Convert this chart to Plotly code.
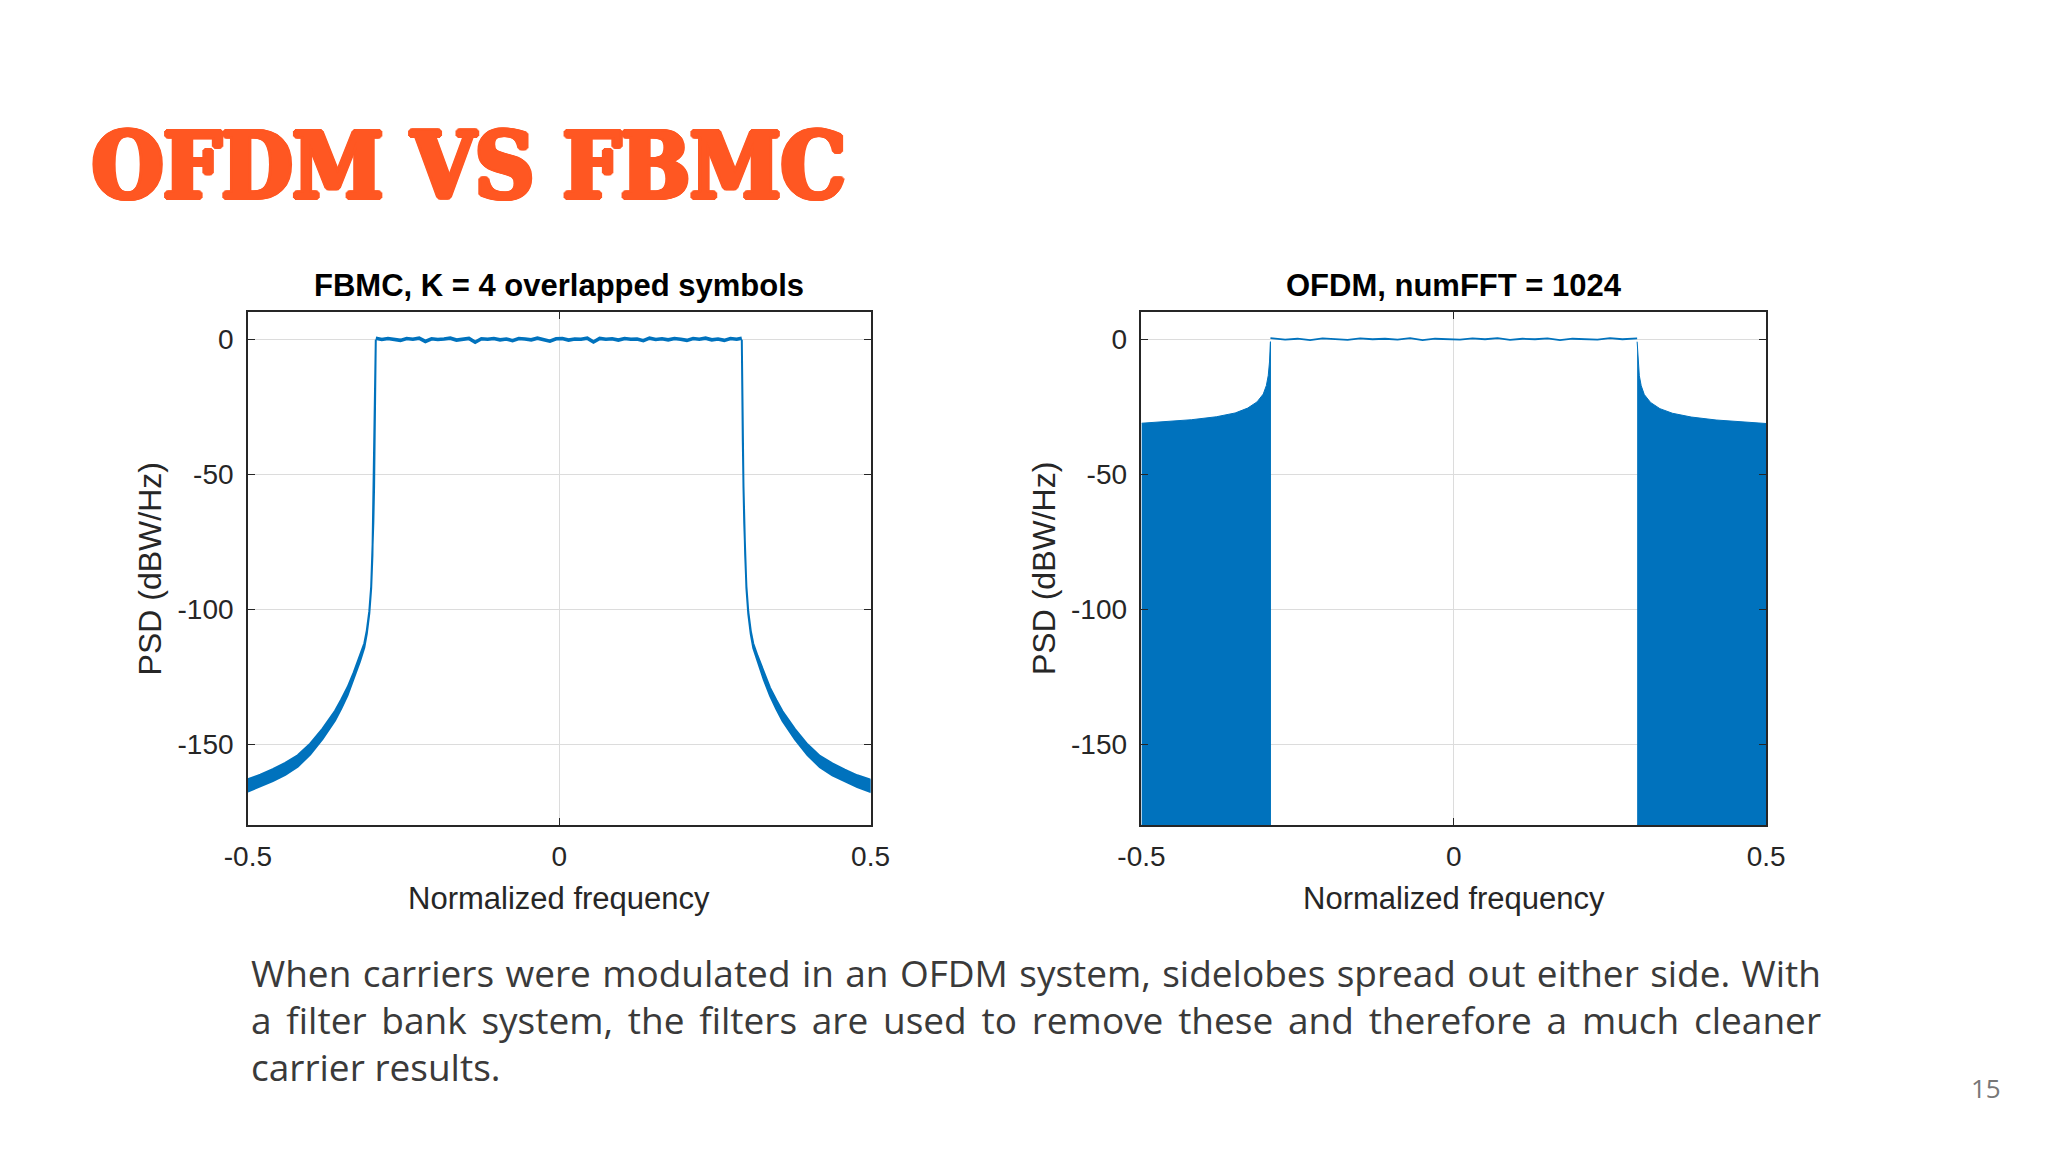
import json
import plotly.graph_objects as go

# ---------------- data ----------------
FREQ_TICKS = [-0.5, 0, 0.5]
FREQ_TICK_TEXT = ["-0.5", "0", "0.5"]
PSD_TICKS = [-150, -100, -50, 0]
PSD_TICK_TEXT = ["-150", "-100", "-50", "0"]
FREQ_RANGE = [-0.5, 0.5]
PSD_RANGE = [-180, 10]

# FBMC passband (noisy, around 0 dB)
fbmc_pass_f = [-0.2946, -0.285, -0.275, -0.265, -0.255, -0.245, -0.235, -0.225, -0.215, -0.205,
               -0.195, -0.185, -0.175, -0.165, -0.155, -0.145, -0.135, -0.125, -0.115, -0.105,
               -0.095, -0.085, -0.075, -0.065, -0.055, -0.045, -0.035, -0.025, -0.015, -0.005,
               0.005, 0.015, 0.025, 0.035, 0.045, 0.055, 0.065, 0.075, 0.085, 0.095,
               0.105, 0.115, 0.125, 0.135, 0.145, 0.155, 0.165, 0.175, 0.185, 0.195,
               0.205, 0.215, 0.225, 0.235, 0.245, 0.255, 0.265, 0.275, 0.285, 0.2932]
fbmc_pass_psd = [0.3, -0.2, 0.2, 0.0, -0.5, 0.2, -0.1, 0.3, -0.9, 0.1,
                 -0.2, 0.0, 0.3, -0.4, -0.1, 0.2, -1.2, 0.1, -0.1, 0.2,
                 -0.3, 0.0, -0.6, 0.2, 0.0, -0.3, 0.3, -0.2, -0.8, 0.1,
                 0.2, -0.4, 0.0, -0.1, 0.3, -1.1, 0.2, -0.1, 0.1, -0.4,
                 0.2, -0.1, 0.0, -0.6, 0.3, -0.2, 0.1, -0.3, 0.2, -0.1,
                 -0.5, 0.2, -0.1, 0.3, -0.3, 0.0, -0.5, 0.2, -0.1, 0.3]

# FBMC skirts: upper / lower edge of the thick noisy band
fbmc_left_f = [-0.5, -0.48, -0.46, -0.44, -0.42, -0.40, -0.38, -0.36, -0.35, -0.34,
               -0.33, -0.32, -0.313, -0.309, -0.305, -0.302, -0.300, -0.2985, -0.2973,
               -0.2962, -0.2955, -0.2948, -0.2946]
fbmc_left_upper = [-163.0, -161.4, -159.3, -157.0, -154.2, -149.9, -144.3, -137.7, -133.5, -129.0,
                   -123.5, -117.2, -112.7, -107.9, -100.8, -91.7, -79.8, -67.8, -54.5,
                   -37.8, -24.8, -7.8, -0.3]
fbmc_left_lower = [-167.6, -165.8, -163.7, -161.4, -158.4, -153.9, -148.1, -141.3, -136.9, -132.0,
                   -126.1, -119.4, -114.3, -109.1, -101.6, -92.3, -80.2, -68.2, -54.9,
                   -38.2, -25.2, -8.2, -0.8]

fbmc_right_f = [0.2932, 0.2934, 0.2941, 0.2948, 0.2959, 0.2971, 0.2986, 0.3006, 0.3036,
                0.3076, 0.3116, 0.3186, 0.3286, 0.3386, 0.3486, 0.3586, 0.3786, 0.3986,
                0.4186, 0.4386, 0.4586, 0.4786, 0.5]
fbmc_right_upper = [-0.3, -7.8, -24.8, -37.8, -54.6, -67.8, -79.8, -91.7, -101.0,
                    -108.1, -112.8, -117.4, -123.7, -129.2, -133.7, -137.9, -144.5, -150.1,
                    -154.4, -157.2, -159.5, -161.6, -163.2]
fbmc_right_lower = [-0.8, -8.2, -25.2, -38.2, -55.0, -68.2, -80.2, -92.3, -101.8,
                    -109.3, -114.4, -119.6, -126.3, -132.2, -137.1, -141.5, -148.3, -154.1,
                    -158.6, -161.6, -163.9, -166.0, -167.8]

# OFDM passband
ofdm_pass_f = [-0.2935, -0.27, -0.25, -0.23, -0.21, -0.19, -0.17, -0.15, -0.13, -0.11,
               -0.09, -0.07, -0.05, -0.03, -0.01, 0.01, 0.03, 0.05, 0.07, 0.09,
               0.11, 0.13, 0.15, 0.17, 0.19, 0.21, 0.23, 0.25, 0.27, 0.2935]
ofdm_pass_psd = [0.3, -0.2, 0.1, -0.4, 0.2, 0.0, -0.3, 0.2, -0.1, 0.1,
                 -0.2, 0.3, -0.4, 0.1, 0.0, -0.2, 0.2, -0.1, 0.3, -0.3,
                 0.1, -0.1, 0.2, -0.4, 0.1, 0.0, -0.2, 0.3, -0.1, 0.2]

# OFDM sidelobe envelopes (the area below is filled by dense nulls)
ofdm_left_f = [-0.5, -0.46, -0.42, -0.38, -0.35, -0.33, -0.315, -0.305,
               -0.300, -0.297, -0.295, -0.2935]
ofdm_left_env = [-31.2, -30.6, -29.9, -28.8, -27.4, -25.6, -23.3, -20.4,
                 -17.2, -13.5, -8.5, -1.0]
ofdm_right_f = [0.2935, 0.295, 0.297, 0.300, 0.305, 0.315, 0.33, 0.35,
                0.38, 0.42, 0.46, 0.5]
ofdm_right_env = [-1.0, -8.7, -13.6, -17.3, -20.6, -23.5, -25.8, -27.5,
                  -28.9, -30.0, -30.7, -31.3]

SLIDE_TITLE = "OFDM VS FBMC"
LEFT_TITLE = "FBMC, K = 4 overlapped symbols"
RIGHT_TITLE = "OFDM, numFFT = 1024"
X_LABEL = "Normalized frequency"
Y_LABEL = "PSD (dBW/Hz)"
BODY_LINES = [
    "When carriers were modulated in an OFDM system, sidelobes spread out either side. With",
    "a filter bank system, the filters are used to remove these and therefore a much cleaner",
    "carrier results.",
]
PAGE_NUMBER = "15"

# ---------------- styling ----------------
W, H = 2048, 1152
BLUE = "#0072BD"
AX = "#262626"
GRID = "#dcdcdc"
FONT = "Liberation Sans"
ORANGE = "#FF5722"

# effective horizontal plot area observed in the renderer
PX_OFF, PX_W = 23.0, 2006.0


def fx(px):
    return (px - PX_OFF) / PX_W


def fy(py):
    return 1 - py / H


fig = go.Figure()


def band(f, up, lo):
    return f + f[::-1], up + lo[::-1]


# FBMC traces (left axes)
fig.add_trace(go.Scatter(x=fbmc_pass_f, y=fbmc_pass_psd, mode="lines",
                         line=dict(color=BLUE, width=3.6), xaxis="x", yaxis="y",
                         showlegend=False, hoverinfo="skip"))
for f, up, lo in [(fbmc_left_f, fbmc_left_upper, fbmc_left_lower),
                  (fbmc_right_f, fbmc_right_upper, fbmc_right_lower)]:
    bx, by = band(f, up, lo)
    fig.add_trace(go.Scatter(x=bx, y=by, mode="lines", fill="toself",
                             fillcolor=BLUE, line=dict(color=BLUE, width=2),
                             xaxis="x", yaxis="y", showlegend=False, hoverinfo="skip"))

# OFDM traces (right axes)
for f, env in [(ofdm_left_f, ofdm_left_env), (ofdm_right_f, ofdm_right_env)]:
    px = f + [f[-1], f[0]]
    py = env + [PSD_RANGE[0], PSD_RANGE[0]]
    fig.add_trace(go.Scatter(x=px, y=py, mode="lines", fill="toself",
                             fillcolor=BLUE, line=dict(color=BLUE, width=1),
                             xaxis="x2", yaxis="y2", showlegend=False, hoverinfo="skip"))
fig.add_trace(go.Scatter(x=ofdm_pass_f, y=ofdm_pass_psd, mode="lines",
                         line=dict(color=BLUE, width=1.8), xaxis="x2", yaxis="y2",
                         showlegend=False, hoverinfo="skip"))

# axes geometry (target pixels)
L1 = (247, 870)
L2 = (1141, 1766)
TOP, BOT = 312, 825
ydom = [fy(BOT), fy(TOP)]

common_x = dict(range=FREQ_RANGE, tickvals=FREQ_TICKS, ticktext=FREQ_TICK_TEXT,
                showgrid=True, gridcolor=GRID, gridwidth=1, zeroline=False,
                showline=True, linecolor=AX, linewidth=1.5, mirror="allticks",
                ticks="inside", ticklen=7, tickcolor=AX, tickwidth=1.2,
                tickfont=dict(family=FONT, size=28, color=AX),
                ticklabelstandoff=6, fixedrange=True)
common_y = dict(range=PSD_RANGE, tickvals=PSD_TICKS, ticktext=PSD_TICK_TEXT,
                showgrid=True, gridcolor=GRID, gridwidth=1, zeroline=False,
                showline=True, linecolor=AX, linewidth=1.5, mirror="allticks",
                ticks="inside", ticklen=7, tickcolor=AX, tickwidth=1.2,
                tickfont=dict(family=FONT, size=28, color=AX),
                ticklabelstandoff=7, fixedrange=True, domain=ydom)

fig.update_layout(
    width=W, height=H, autosize=False,
    margin=dict(l=0, r=0, t=0, b=0, pad=0),
    paper_bgcolor="white", plot_bgcolor="white",
    xaxis=dict(domain=[fx(L1[0]), fx(L1[1])], anchor="y", **common_x),
    yaxis=dict(anchor="x", **common_y),
    xaxis2=dict(domain=[fx(L2[0]), fx(L2[1])], anchor="y2", **common_x),
    yaxis2=dict(anchor="x2", **common_y),
)

thick = ", ".join(f"{dx}px {dy}px 0 {ORANGE}" for dx, dy in
                  [(3, 0), (-3, 0), (0, 2), (0, -2), (2, 1), (-2, -1), (2, -1), (-2, 1),
                   (1, 2), (-1, 2), (1, -2), (-1, -2)])
ann = []
# slide title
ann.append(dict(text="<b>" + SLIDE_TITLE + "</b>", x=fx(89), y=fy(166),
                xref="paper", yref="paper", xanchor="left", yanchor="middle",
                showarrow=False,
                font=dict(family="DejaVu Serif Condensed", size=91, color=ORANGE, shadow=thick)))
# subplot titles and axis labels
for (l, r), t in [(L1, LEFT_TITLE), (L2, RIGHT_TITLE)]:
    cx = fx((l + r) / 2)
    ann.append(dict(text="<b>" + t + "</b>", x=cx, y=fy(285), xref="paper", yref="paper",
                    xanchor="center", yanchor="middle", showarrow=False,
                    font=dict(family=FONT, size=31, color="black")))
    ann.append(dict(text=X_LABEL, x=cx, y=fy(898), xref="paper", yref="paper",
                    xanchor="center", yanchor="middle", showarrow=False,
                    font=dict(family=FONT, size=31, color=AX)))
    ann.append(dict(text=Y_LABEL, x=fx(l - 97), y=fy((TOP + BOT) / 2),
                    xref="paper", yref="paper", xanchor="center", yanchor="middle",
                    textangle=-90, showarrow=False,
                    font=dict(family=FONT, size=32, color=AX)))
# body text
for i, line in enumerate(BODY_LINES):
    ann.append(dict(text=line, x=fx(248.5), y=fy(972 + 47 * i),
                    xref="paper", yref="paper", xanchor="left", yanchor="middle",
                    align="left", showarrow=False,
                    font=dict(family="Open Sans", size=37, color="#3a3a3a")))
# page number
ann.append(dict(text=PAGE_NUMBER, x=fx(1986), y=fy(1088), xref="paper", yref="paper",
                xanchor="center", yanchor="middle", showarrow=False,
                font=dict(family="Open Sans", size=26, color="#777777")))
fig.update_layout(annotations=ann)

JUSTIFY_WIDTH = 1570
post = """
document.body.style.margin='0';document.body.style.overflow='hidden';
(function(){
  var LINES = %s, TARGET = %d;
  function justify(){
    var gd = document.getElementById('{plot_id}');
    if(!gd) return;
    gd.querySelectorAll('g.annotation').forEach(function(g){
      var t = g.querySelector('text.annotation-text');
      if(!t) return;
      var s = t.textContent;
      if(LINES.indexOf(s) < 0) return;
      t.style.wordSpacing = '0px';
      var w = t.getComputedTextLength();
      var n = s.split(' ').length - 1;
      if(n > 0 && w < TARGET) t.style.wordSpacing = ((TARGET - w) / n) + 'px';
    });
  }
  justify();
  var gd = document.getElementById('{plot_id}');
  if(gd && gd.on) gd.on('plotly_afterplot', justify);
  setTimeout(justify, 200); setTimeout(justify, 800);
})();
""" % (json.dumps(BODY_LINES[:2]), JUSTIFY_WIDTH)

fig.write_html("out.html", config={"displayModeBar": False}, post_script=post)
